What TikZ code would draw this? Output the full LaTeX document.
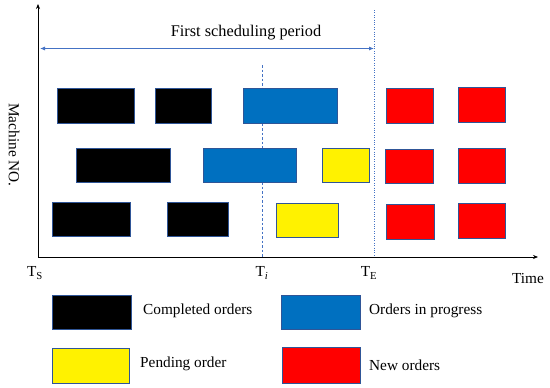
\documentclass[tikz,border=0pt]{standalone}
\usepackage{fontspec}
\setmainfont{Liberation Serif}
\usetikzlibrary{arrows.meta}
\definecolor{obox}{HTML}{2F5597}
\definecolor{oblue}{HTML}{0070C0}
\definecolor{oline}{HTML}{4472C4}
\begin{document}
\begin{tikzpicture}[x=1pt,y=-1pt,
  font=\fontsize{15.3}{18}\selectfont,
  ord/.style={draw=obox, line width=0.6pt, inner sep=0pt, outer sep=0pt},
  kb/.style={ord, fill=black},
  bb/.style={ord, fill=oblue},
  yb/.style={ord, fill=yellow},
  rb/.style={ord, fill=red},
  lbl/.style={inner sep=0pt, anchor=west},
  axis/.style={line width=0.7pt, -{Stealth[length=5pt,width=4pt]}}]
\useasboundingbox (0,0) rectangle (550,388);
% axes
\coordinate (O) at (38,257);
\coordinate (Ytop) at (38,4);
\coordinate (Xend) at (538,257);
\draw[axis] (O) -- (Ytop);
\draw[axis] (O) -- (Xend);
% period lines
\coordinate (TiTop) at (262,65);
\coordinate (TiBot) at (262,257);
\coordinate (TeTop) at (374,10);
\coordinate (TeBot) at (374,257);
\draw[oline, line width=0.6pt, dash pattern=on 2.5pt off 2pt] (TiTop) -- (TiBot);
\draw[oline, line width=0.6pt, dash pattern=on 0.8pt off 1.6pt] (TeTop) -- (TeBot);
\coordinate (PerL) at (40,48.5);
\coordinate (PerR) at (374,48.5);
\draw[oline, line width=0.8pt, {Latex[length=5pt,width=4pt]}-{Latex[length=5pt,width=4pt]}] (PerL) -- (PerR);
\node[font=\fontsize{16.3}{19}\selectfont] (per) at (246,33) {First scheduling period};
% row 1
\node[kb, minimum width=77pt, minimum height=35pt] (k1) at (95.5,105.5) {};
\node[kb, minimum width=56pt, minimum height=35pt] (k2) at (183,105.5) {};
\node[bb, minimum width=94pt, minimum height=35pt] (b1) at (290,105.5) {};
\node[rb, minimum width=47pt, minimum height=35pt] (r1) at (409.5,105.5) {};
\node[rb, minimum width=47pt, minimum height=35pt] (r2) at (481.5,104.5) {};
% row 2
\node[kb, minimum width=94pt, minimum height=34pt] (k3) at (123,165) {};
\node[bb, minimum width=93pt, minimum height=34pt] (b2) at (249.5,165) {};
\node[yb, minimum width=47pt, minimum height=34pt] (y1) at (345.5,165) {};
\node[rb, minimum width=48pt, minimum height=34pt] (r3) at (409,166) {};
\node[rb, minimum width=47pt, minimum height=35pt] (r4) at (481.5,165.5) {};
% row 3
\node[kb, minimum width=78pt, minimum height=34pt] (k4) at (91,219) {};
\node[kb, minimum width=61pt, minimum height=34pt] (k5) at (197.5,219) {};
\node[yb, minimum width=62pt, minimum height=34pt] (y2) at (307,220) {};
\node[rb, minimum width=48pt, minimum height=35pt] (r5) at (410,221.5) {};
\node[rb, minimum width=47pt, minimum height=35pt] (r6) at (481.5,220.5) {};
% axis labels
\node[rotate=-90] (mach) at (14,145) {Machine NO.};
\node (ts) at (35,273) {T\textsubscript{S}};
\node (ti) at (262,273) {T\textsubscript{\textit{i}}};
\node (te) at (369,273) {T\textsubscript{E}};
\node (time) at (528,279) {Time};
% legend
\node[kb, minimum width=79pt, minimum height=34pt] (lk) at (91.5,312) {};
\node[yb, minimum width=77pt, minimum height=35pt] (ly) at (90.5,365.5) {};
\node[bb, minimum width=79pt, minimum height=34pt] (lb) at (320.5,312) {};
\node[rb, minimum width=78pt, minimum height=36pt] (lr) at (321,365) {};
\node[lbl] (tk) at (143,311) {Completed orders};
\node[lbl] (ty) at (140,364) {Pending order};
\node[lbl] (tb) at (369,311) {Orders in progress};
\node[lbl] (tr) at (369,365) {New orders};
\end{tikzpicture}
\end{document}
